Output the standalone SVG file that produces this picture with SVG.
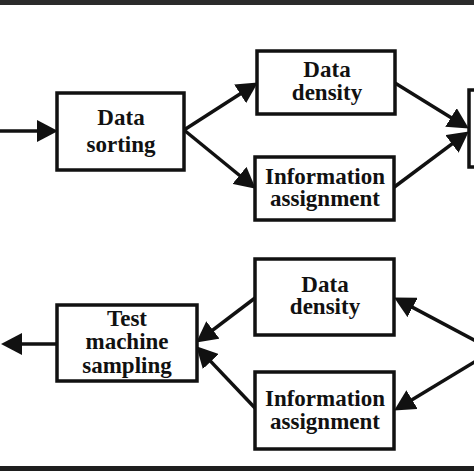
<svg xmlns="http://www.w3.org/2000/svg" width="474" height="474" viewBox="0 0 474 474">
<style>
.box{fill:#fff;stroke:#111;stroke-width:3.5}
.lbl{font-family:"Liberation Serif","Times New Roman",serif;font-weight:bold;font-size:23px;fill:#111;text-anchor:middle}
.con{stroke:#111;stroke-width:3.5;fill:none;marker-end:url(#ah)}
</style>
<defs>
<marker id="ah" markerUnits="userSpaceOnUse" markerWidth="22" markerHeight="22" viewBox="0 0 22 22" refX="16" refY="11" orient="auto">
<path d="M0,0 L21,11 L0,22 z" fill="#111"/>
</marker>
</defs>
<rect x="0" y="0" width="474" height="474" fill="#fff"/>
<rect x="0" y="0" width="474" height="5" fill="#2b2b2b"/>
<rect x="0" y="466" width="474" height="5" fill="#1e1e1e"/>
<g id="connectors">
<line class="con" x1="0" y1="131" x2="53" y2="131"/>
<line class="con" x1="184" y1="130" x2="253.6" y2="85.2"/>
<line class="con" x1="184" y1="130" x2="251.9" y2="185.5"/>
<line class="con" x1="395" y1="83" x2="464.6" y2="125.9"/>
<line class="con" x1="393" y1="188" x2="464.8" y2="134.4"/>
<line class="con" x1="476" y1="341" x2="398.5" y2="299.9"/>
<line class="con" x1="476" y1="361" x2="398.4" y2="407.9"/>
<line class="con" x1="255" y1="298" x2="200.2" y2="339.6"/>
<line class="con" x1="255" y1="408" x2="199.8" y2="349.9"/>
<line class="con" x1="57" y1="344" x2="6" y2="344"/>
</g>
<g id="data-sorting">
<rect class="box" x="57" y="93" width="127" height="77"/>
<text class="lbl" x="121" y="125">Data</text>
<text class="lbl" x="121" y="152">sorting</text>
</g>
<g id="data-density-top">
<rect class="box" x="257" y="51" width="138" height="63"/>
<text class="lbl" x="327" y="77">Data</text>
<text class="lbl" x="327" y="100">density</text>
</g>
<g id="info-assignment-top">
<rect class="box" x="255" y="157" width="139" height="63"/>
<text class="lbl" x="325" y="184">Information</text>
<text class="lbl" x="325" y="206">assignment</text>
</g>
<g id="right-box">
<rect class="box" x="469" y="90" width="20" height="77"/>
</g>
<g id="data-density-bottom">
<rect class="box" x="255" y="259" width="139" height="76"/>
<text class="lbl" x="325" y="292">Data</text>
<text class="lbl" x="325" y="314">density</text>
</g>
<g id="info-assignment-bottom">
<rect class="box" x="255" y="372" width="139" height="77"/>
<text class="lbl" x="325" y="406">Information</text>
<text class="lbl" x="325" y="429">assignment</text>
</g>
<g id="test-machine-sampling">
<rect class="box" x="57" y="305" width="140" height="76"/>
<text class="lbl" x="127" y="326">Test</text>
<text class="lbl" x="127" y="349">machine</text>
<text class="lbl" x="127" y="373">sampling</text>
</g>
</svg>
